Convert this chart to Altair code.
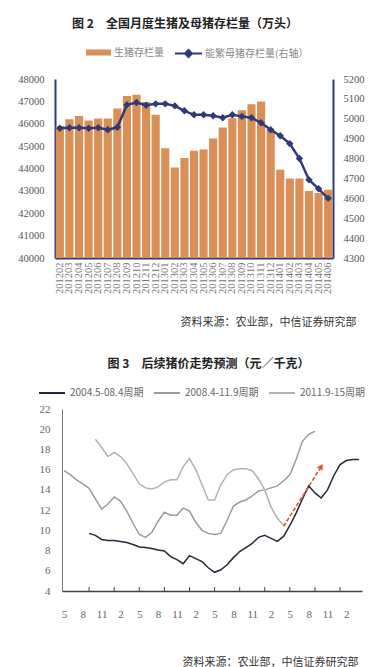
import json
import altair as alt
import pandas as pd

# ---------------- Figure 2 data ----------------
MONTHS = ['201202', '201203', '201204', '201205', '201206', '201207', '201208', '201209',
          '201210', '201211', '201212', '201301', '201302', '201303', '201304', '201305',
          '201306', '201307', '201308', '201309', '201310', '201311', '201312', '201401',
          '201402', '201403', '201404', '201405', '201406']
PIGS = [45900, 46200, 46350, 46150, 46230, 46230, 46680, 47240, 47300, 46970, 46400,
        44900, 44050, 44470, 44790, 44850, 45340, 45830, 46250, 46600, 46870, 47000,
        45720, 43940, 43550, 43550, 43000, 42900, 43050]
SOWS = [4952, 4955, 4955, 4952, 4955, 4945, 4957, 5070, 5082, 5068, 5075, 5075, 5065,
        5040, 5020, 5020, 5015, 5005, 5020, 5012, 5005, 4980, 4945, 4915, 4875, 4800,
        4693, 4648, 4600]
BAR_LABEL = '生猪存栏量'
LINE_LABEL = '能繁母猪存栏量(右轴）'
PIG_TICKS = [40000, 41000, 42000, 43000, 44000, 45000, 46000, 47000, 48000]
SOW_TICKS = [4300, 4400, 4500, 4600, 4700, 4800, 4900, 5000, 5100, 5200]
TITLE1 = '图 2　全国月度生猪及母猪存栏量（万头）'

# ---------------- Figure 3 data ----------------
CYCLE_NAMES = ['2004.5-08.4周期', '2008.4-11.9周期', '2011.9-15周期']
C1_START = 4
C1 = [9.7, 9.5, 9.1, 9.0, 9.0, 8.9, 8.8, 8.6, 8.35, 8.3, 8.2, 8.05, 7.95, 7.4, 7.1, 6.7,
      7.5, 7.2, 6.9, 6.3, 5.85, 6.1, 6.6, 7.3, 7.9, 8.3, 8.7, 9.3, 9.5, 9.2, 8.9, 9.4,
      10.5, 11.7, 13.1, 14.4, 13.7, 13.2, 14.0, 15.4, 16.5, 16.9, 17.0, 17.0]
C2_START = 0
C2 = [15.9, 15.5, 15.0, 14.6, 14.15, 13.1, 12.1, 12.6, 13.3, 12.9, 11.9, 10.7, 9.6, 9.3,
      9.8, 10.9, 11.8, 11.5, 11.5, 12.2, 11.9, 10.8, 10.0, 9.7, 9.6, 9.7, 11.0, 12.4,
      12.8, 13.0, 13.4, 13.9, 14.0, 14.2, 14.4, 14.9, 15.5, 17.0, 18.8, 19.5, 19.8]
C3_START = 5
C3 = [19.0, 18.2, 17.3, 17.7, 17.3, 16.6, 15.6, 14.6, 14.2, 14.1, 14.3, 14.8, 15.0, 15.0,
      16.3, 17.1, 16.0, 14.5, 13.0, 13.0, 14.5, 15.5, 16.0, 16.1, 16.1, 15.9, 15.1, 14.0,
      12.3, 11.2, 10.5]
ARROW_X = [35, 41]
ARROW_Y = [10.4, 16.3]
X_LABEL_POS = [0, 3, 6, 9, 12, 15, 18, 21, 24, 27, 30, 33, 36, 39, 42, 45]
X_TICK_LABELS = ['5', '8', '11', '2', '5', '8', '11', '2', '5', '8', '11', '2', '5', '8', '11', '2']
X_TICK_POS = [4, 8, 12, 16, 20, 24, 28, 32, 36, 40, 44]
PRICE_TICKS = [4, 6, 8, 10, 12, 14, 16, 18, 20, 22]
TITLE2 = '图 3　后续猪价走势预测（元／千克）'
SOURCE = '资料来源：农业部，中信证券研究部'

SERIF = 'Liberation Serif'
CJK = 'Noto Sans CJK SC'
ORANGE = '#d98f56'
NAVY = '#2f3a78'
DARK = '#25283a'
MID = '#9c9c94'
LIGHT = '#b2b2b2'
RED = '#e2552c'

H1, W1 = 179, 278
H2, W2 = 182, 307
GAP = 151

# ---------------- Figure 2 ----------------
df1 = pd.DataFrame({'month': MONTHS, 'pigs': PIGS, 'sows': SOWS,
                    'bar_s': BAR_LABEL, 'line_s': LINE_LABEL})

X1_AXIS = alt.Axis(title=SOURCE, labelAngle=-90, labelAlign='right', labelBaseline='middle',
                   labelFont=SERIF, labelFontSize=10.5, labelColor='#777777',
                   labelPadding=4, labelOverlap=False, ticks=False,
                   domainColor=NAVY, domainWidth=2,
                   titleFont=CJK, titleFontSize=11, titleFontWeight='normal',
                   titleColor='#333333', titleX=301, titleY=64,
                   titleAlign='right', titleBaseline='middle')
x1 = alt.X('month:N', sort=None, scale=alt.Scale(paddingInner=0.15, paddingOuter=0.08),
           axis=X1_AXIS)

bars = alt.Chart(df1).mark_bar(color=ORANGE, clip=True).encode(
    x=x1,
    y=alt.Y('pigs:Q', scale=alt.Scale(domain=[40000, 48000], zero=False, nice=False),
            axis=alt.Axis(title=None, values=PIG_TICKS, format='d', grid=False, ticks=False,
                          labelFont=SERIF, labelFontSize=10.5, labelColor='#555555',
                          labelPadding=11, labelOverlap=False,
                          domainColor=NAVY, domainWidth=2)),
    color=alt.Color('bar_s:N', scale=alt.Scale(domain=[BAR_LABEL], range=[ORANGE]),
                    legend=alt.Legend(orient='none', legendX=31, legendY=-39, title=None,
                                      padding=0, symbolType='M-1,-0.24H1V0.24H-1Z',
                                      symbolSize=625, symbolStrokeWidth=0,
                                      symbolFillColor=ORANGE,
                                      labelFont=CJK, labelFontSize=10, labelColor='#888888',
                                      labelOffset=3)),
)

SOW_AXIS = alt.Axis(orient='right', title=None, values=SOW_TICKS, format='d', grid=False,
                    ticks=False, labelFont=SERIF, labelFontSize=10.5,
                    labelColor='#555555', labelPadding=10, labelOverlap=False,
                    domainColor=NAVY, domainWidth=2)
ysow = alt.Y('sows:Q', scale=alt.Scale(domain=[4300, 5200], zero=False, nice=False),
             axis=SOW_AXIS)

line = alt.Chart(df1).mark_line(strokeWidth=2.5).encode(
    x=x1,
    y=ysow,
    color=alt.Color('line_s:N', scale=alt.Scale(domain=[LINE_LABEL], range=[NAVY]),
                    legend=alt.Legend(orient='none', legendX=119, legendY=-40, title=None,
                                      padding=0,
                                      symbolType='M-1,0H1M-0.26,0L0,-0.26L0.26,0L0,0.26Z',
                                      symbolSize=729, symbolStrokeWidth=2,
                                      symbolFillColor=NAVY,
                                      labelFont=CJK, labelFontSize=10, labelColor='#888888',
                                      labelOffset=2)),
)
points = alt.Chart(df1).mark_point(shape='diamond', filled=True, size=55, color=NAVY,
                                   opacity=1).encode(x=x1, y=ysow)

title1 = alt.Chart(pd.DataFrame({'t': [TITLE1]})).mark_text(
    font=CJK, fontSize=12, fontWeight='bold', color='#222222', align='center',
    baseline='middle').encode(text='t:N', x=alt.value(130), y=alt.value(-55.5))

chart1 = alt.layer(bars, alt.layer(line, points), title1).resolve_scale(
    y='independent', color='independent'
).properties(width=W1, height=H1)

# ---------------- Figure 3 ----------------
rows = []
for name, start, vals in ((CYCLE_NAMES[0], C1_START, C1), (CYCLE_NAMES[1], C2_START, C2),
                          (CYCLE_NAMES[2], C3_START, C3)):
    for i, v in enumerate(vals):
        rows.append({'m': start + i, 'p': v, 'cycle': name})
df2 = pd.DataFrame(rows)
arrow_df = pd.DataFrame({'m': ARROW_X, 'p': ARROW_Y})
tick_df = pd.DataFrame({'m': X_TICK_POS})

label_expr = json.dumps(X_TICK_LABELS) + '[round(datum.value / 3)]'
X2_AXIS = alt.Axis(title=SOURCE, values=X_LABEL_POS, labelExpr=label_expr, ticks=False,
                   grid=False, domainColor='#444444', domainWidth=1.5,
                   labelFont=SERIF, labelFontSize=11, labelColor='#666666',
                   labelPadding=17, labelOverlap=False,
                   titleFont=CJK, titleFontSize=11, titleFontWeight='normal',
                   titleColor='#333333', titleX=303, titleY=71,
                   titleAlign='right', titleBaseline='middle')
Y2_AXIS = alt.Axis(title=None, values=PRICE_TICKS, offset=-7, ticks=False, grid=False,
                   labelFont=SERIF, labelFontSize=11, labelColor='#666666',
                   labelPadding=12, labelOverlap=False,
                   domainColor='#777777', domainWidth=1)
x2 = alt.X('m:Q', scale=alt.Scale(domain=[-0.32, 47.5], range=[7, 307], nice=False,
                                  zero=False), axis=X2_AXIS)
y2 = alt.Y('p:Q', scale=alt.Scale(domain=[4, 22], nice=False, zero=False), axis=Y2_AXIS)

lines2 = alt.Chart(df2).mark_line(strokeWidth=1.5).encode(
    x=x2,
    y=y2,
    color=alt.Color('cycle:N', scale=alt.Scale(domain=CYCLE_NAMES, range=[DARK, MID, LIGHT]),
                    legend=alt.Legend(orient='none', direction='horizontal', legendX=-17,
                                      legendY=300, title=None, padding=0,
                                      symbolType='stroke', symbolSize=676,
                                      symbolStrokeWidth=2, labelOffset=4, columnPadding=6,
                                      labelFont=CJK, labelFontSize=10,
                                      labelColor='#666666')),
    order=alt.Order('m:Q'),
)

inner_ticks = alt.Chart(tick_df).mark_rule(color='#444444', strokeWidth=1).encode(
    x=x2,
    y=alt.value(H2 - 4), y2=alt.value(H2),
)

arrow_line = alt.Chart(arrow_df).mark_line(color=RED, strokeDash=[4, 2],
                                           strokeWidth=1.6).encode(x=x2, y=y2)
arrow_head = alt.Chart(arrow_df.tail(1)).mark_point(shape='triangle-up', filled=True,
                                                    size=45, color=RED, angle=32,
                                                    opacity=1).encode(x=x2, y=y2)

title2 = alt.Chart(pd.DataFrame({'t': [TITLE2]})).mark_text(
    font=CJK, fontSize=12, fontWeight='bold', color='#222222', align='center',
    baseline='middle').encode(text='t:N', x=alt.value(153.5), y=alt.value(-45))

chart2 = alt.layer(lines2, inner_ticks, arrow_line, arrow_head, title2).properties(
    width=W2, height=H2)

chart = alt.vconcat(chart1, chart2, spacing=GAP, bounds='flush').properties(
    padding={'left': 9, 'top': 9, 'right': 5, 'bottom': 0},
    background='white',
).configure_view(stroke=None)

chart.save('out.html', embed_options={'renderer': 'svg', 'actions': False})
